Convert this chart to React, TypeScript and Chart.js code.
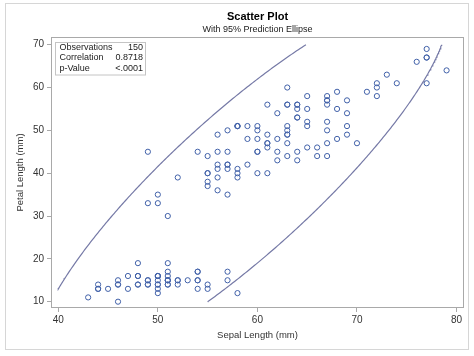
import React, { useEffect, useRef } from "react";
import { Chart, registerables } from "chart.js";

Chart.register(...registerables);

// Iris data, millimetres (order: setosa, versicolor, virginica)
const sepalLength = [
  51, 49, 47, 46, 50, 54, 46, 50, 44, 49, 54, 48, 48, 43, 58, 57, 54, 51, 57, 51, 54, 51, 46, 51, 48,
  50, 50, 52, 52, 47, 48, 54, 52, 55, 49, 50, 55, 49, 44, 51, 50, 45, 44, 50, 51, 48, 51, 46, 53, 50,
  70, 64, 69, 55, 65, 57, 63, 49, 66, 52, 50, 59, 60, 61, 56, 67, 56, 58, 62, 56, 59, 61, 63, 61, 64,
  66, 68, 67, 60, 57, 55, 55, 58, 60, 54, 60, 67, 63, 56, 55, 55, 61, 58, 50, 56, 57, 57, 62, 51, 57,
  63, 58, 71, 63, 65, 76, 49, 73, 67, 72, 65, 64, 68, 57, 58, 64, 65, 77, 77, 60, 69, 56, 77, 63, 67,
  72, 62, 61, 64, 72, 74, 79, 64, 63, 61, 77, 63, 64, 60, 69, 67, 69, 58, 68, 67, 67, 63, 65, 62, 59,
];
const petalLength = [
  14, 14, 13, 15, 14, 17, 14, 15, 14, 15, 15, 16, 14, 11, 12, 15, 13, 14, 17, 15, 17, 15, 10, 17, 19,
  16, 16, 15, 14, 16, 16, 15, 15, 14, 15, 12, 13, 14, 13, 15, 13, 13, 13, 16, 19, 14, 16, 14, 15, 14,
  47, 45, 49, 40, 46, 45, 47, 33, 46, 39, 35, 42, 40, 47, 36, 44, 45, 41, 45, 39, 48, 40, 49, 47, 43,
  44, 48, 50, 45, 35, 38, 37, 39, 51, 45, 45, 47, 44, 41, 40, 44, 46, 40, 33, 42, 42, 42, 43, 30, 41,
  60, 51, 59, 56, 58, 66, 45, 63, 58, 61, 51, 53, 55, 50, 51, 53, 55, 67, 69, 50, 57, 49, 67, 49, 57,
  60, 48, 49, 56, 58, 61, 64, 56, 51, 56, 61, 56, 55, 48, 54, 56, 51, 51, 59, 57, 52, 50, 52, 54, 51,
];

const xTicks = [40, 50, 60, 70, 80];
const yTicks = [10, 20, 30, 40, 50, 60, 70];
const xRange = [39.37, 80.65];
const yRange = [8.76, 71.56];

const titleText = "Scatter Plot";
const subtitleText = "With 95% Prediction Ellipse";
const xTitle = "Sepal Length (mm)";
const yTitle = "Petal Length (mm)";
const statLabels = ["Observations", "Correlation", "p-Value"];
const statValues = ["150", "0.8718", "<.0001"];
const ellipseLevel = 0.95;

const FONT = "'Liberation Sans', Arial, Helvetica, sans-serif";
const MARKER = "#4060a8";
const ELLIPSE = "#7579a6";
const FRAME = "#a9a9a9";
const TEXT = "#333333";

type Pt = { x: number | null; y: number | null };

// 95% prediction ellipse computed from the sample mean and covariance
function predictionEllipse(xs: number[], ys: number[], level: number, steps = 720) {
  const n = xs.length;
  const mx = xs.reduce((a, b) => a + b, 0) / n;
  const my = ys.reduce((a, b) => a + b, 0) / n;
  let sxx = 0, syy = 0, sxy = 0;
  for (let i = 0; i < n; i++) {
    const dx = xs[i] - mx, dy = ys[i] - my;
    sxx += dx * dx; syy += dy * dy; sxy += dx * dy;
  }
  sxx /= n - 1; syy /= n - 1; sxy /= n - 1;
  const m = n - 2;
  const f = (m / 2) * (Math.pow(1 - level, -2 / m) - 1); // F(2, n-2) quantile
  const c = ((2 * (n - 1) * (n + 1)) / (n * (n - 2))) * f;
  const r = Math.sqrt(c);
  const l11 = Math.sqrt(sxx);
  const l21 = sxy / l11;
  const l22 = Math.sqrt(syy - l21 * l21);
  const pts: { x: number; y: number }[] = [];
  for (let k = 0; k <= steps; k++) {
    const t = (2 * Math.PI * k) / steps;
    const u = Math.cos(t), v = Math.sin(t);
    pts.push({ x: mx + r * l11 * u, y: my + r * (l21 * u + l22 * v) });
  }
  return pts;
}

// clip the polyline to the tick range box (Liang-Barsky), gaps become nulls
function clipToBox(pts: { x: number; y: number }[], x0: number, x1: number, y0: number, y1: number): Pt[] {
  const out: Pt[] = [];
  let last: { x: number; y: number } | null = null;
  for (let i = 0; i < pts.length - 1; i++) {
    const a = pts[i], b = pts[i + 1];
    const dx = b.x - a.x, dy = b.y - a.y;
    let t0 = 0, t1 = 1;
    const p = [-dx, dx, -dy, dy];
    const q = [a.x - x0, x1 - a.x, a.y - y0, y1 - a.y];
    let ok = true;
    for (let k = 0; k < 4; k++) {
      if (p[k] === 0) {
        if (q[k] < 0) { ok = false; break; }
      } else {
        const t = q[k] / p[k];
        if (p[k] < 0) { if (t > t1) { ok = false; break; } if (t > t0) t0 = t; }
        else { if (t < t0) { ok = false; break; } if (t < t1) t1 = t; }
      }
    }
    if (!ok) continue;
    const s = { x: a.x + t0 * dx, y: a.y + t0 * dy };
    const e = { x: a.x + t1 * dx, y: a.y + t1 * dy };
    if (!last || Math.abs(last.x - s.x) > 1e-9 || Math.abs(last.y - s.y) > 1e-9) {
      if (out.length) out.push({ x: null, y: null });
      out.push(s);
    }
    out.push(e);
    last = e;
  }
  return out;
}

const decorPlugin = {
  id: "decor",
  afterDraw(chart: any) {
    const { ctx, chartArea: a } = chart;
    ctx.save();
    ctx.lineWidth = 1;
    ctx.strokeStyle = "#d6d6d6";
    ctx.strokeRect(5.5, 3.5, 463, 346);
    ctx.strokeStyle = FRAME;
    ctx.strokeRect(a.left - 0.5, a.top - 0.5, a.right - a.left + 1, a.bottom - a.top + 1);
    const cx = (a.left + a.right) / 2;
    ctx.fillStyle = "#000";
    ctx.textAlign = "center";
    ctx.textBaseline = "alphabetic";
    ctx.font = `bold 11px ${FONT}`;
    ctx.fillText(titleText, cx, 20);
    ctx.font = `9px ${FONT}`;
    ctx.fillStyle = "#222";
    ctx.fillText(subtitleText, cx, 32);
    const bx = a.left + 3.5, by = a.top + 4.5;
    ctx.strokeStyle = "#c4c4c4";
    ctx.strokeRect(bx, by, 90, 32.5);
    ctx.font = `9px ${FONT}`;
    ctx.fillStyle = "#222";
    statLabels.forEach((lab, i) => {
      const y = by + 7.5 + i * 10.3;
      ctx.textAlign = "left";
      ctx.fillText(lab, bx + 4, y);
      ctx.textAlign = "right";
      ctx.fillText(statValues[i], bx + 87.5, y);
    });
    ctx.restore();
  },
};

export default function App() {
  const ref = useRef<HTMLCanvasElement | null>(null);
  useEffect(() => {
    document.body.style.margin = "0";
    if (!ref.current) return;
    const points = sepalLength.map((x, i) => ({ x, y: petalLength[i] }));
    const ellipse = clipToBox(
      predictionEllipse(sepalLength, petalLength, ellipseLevel),
      xTicks[0], xTicks[xTicks.length - 1], yTicks[0], yTicks[yTicks.length - 1]
    );
    const chart = new Chart(ref.current, {
      type: "scatter",
      data: {
        datasets: [
          {
            label: "Ellipse",
            data: ellipse,
            showLine: true,
            spanGaps: false,
            borderColor: ELLIPSE,
            borderWidth: 1.2,
            pointRadius: 0,
            fill: false,
            tension: 0,
          } as any,
          {
            label: "Petal vs Sepal",
            data: points,
            pointStyle: "circle",
            pointRadius: 2.6,
            pointBorderWidth: 1,
            pointBorderColor: MARKER,
            pointBackgroundColor: "rgba(0,0,0,0)",
            borderColor: MARKER,
            backgroundColor: "rgba(0,0,0,0)",
          } as any,
        ],
      },
      options: {
        animation: false,
        responsive: false,
        devicePixelRatio: 1,
        layout: { padding: { top: 38, right: 11, bottom: 0, left: 0 } },
        plugins: {
          legend: { display: false },
          tooltip: { enabled: false },
          title: { display: false },
        },
        scales: {
          x: {
            type: "linear",
            min: xRange[0],
            max: xRange[1],
            afterBuildTicks: (axis: any) => {
              axis.ticks = xTicks.map((v) => ({ value: v }));
            },
            afterFit: (s: any) => {
              s.height = 49;
            },
            grid: { display: true, drawOnChartArea: false, drawTicks: true, tickLength: 5, color: FRAME },
            border: { display: false },
            ticks: { color: TEXT, font: { family: FONT, size: 10 }, padding: 2, maxRotation: 0, callback: (v: any) => String(v) },
            title: { display: true, text: xTitle, color: TEXT, font: { family: FONT, size: 9.5 }, padding: { top: 15, bottom: 15 } },
          },
          y: {
            type: "linear",
            min: yRange[0],
            max: yRange[1],
            afterBuildTicks: (axis: any) => {
              axis.ticks = yTicks.map((v) => ({ value: v }));
            },
            afterFit: (s: any) => {
              s.width = 52;
            },
            grid: { display: true, drawOnChartArea: false, drawTicks: true, tickLength: 5, color: FRAME },
            border: { display: false },
            ticks: { color: TEXT, font: { family: FONT, size: 10 }, padding: 3, callback: (v: any) => String(v) },
            title: { display: true, text: yTitle, color: TEXT, font: { family: FONT, size: 9.5 }, padding: { top: 15, bottom: 15 } },
          },
        },
      },
      plugins: [decorPlugin],
    } as any);
    return () => chart.destroy();
  }, []);
  return (
    <div style={{ width: 474, height: 356, background: "#fff" }}>
      <canvas ref={ref} width={474} height={356} style={{ display: "block", width: 474, height: 356 }} />
    </div>
  );
}
